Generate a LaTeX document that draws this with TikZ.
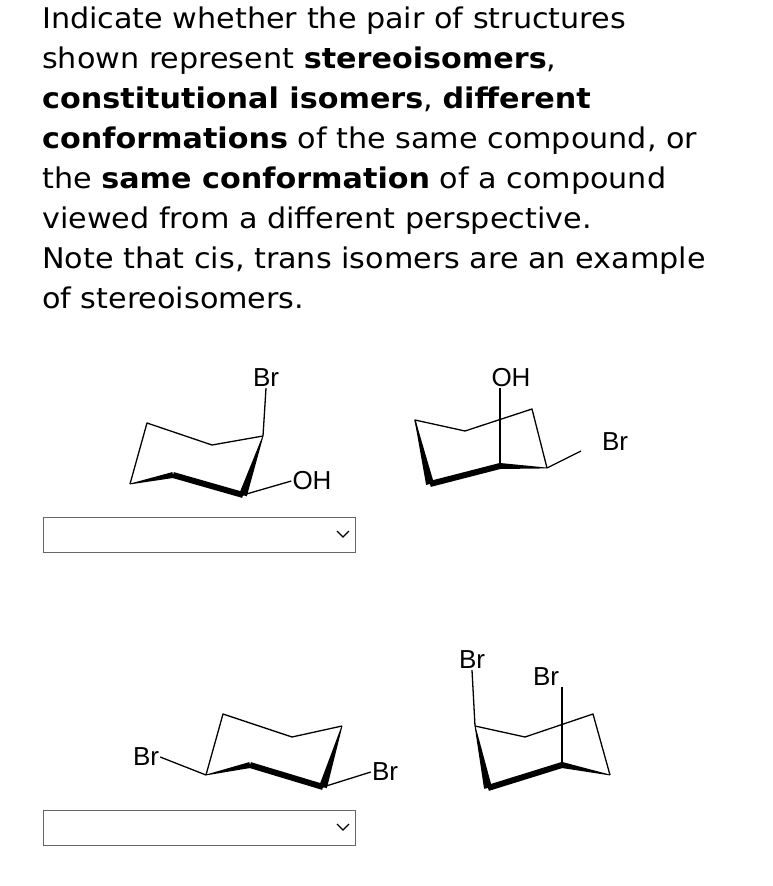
\documentclass[tikz,border=0pt]{standalone}
\usepackage{fontspec}
\setmainfont{DejaVu Sans}[FakeStretch=1.06]
\newfontfamily\lab{Liberation Sans}
\usetikzlibrary{calc}
\newcommand{\bwdg}[4]{\fill ($(#1)!#3!90:(#2)$) -- ($(#1)!#3!-90:(#2)$) -- ($(#2)!#4!90:(#1)$) -- ($(#2)!#4!-90:(#1)$) -- cycle;}
\tikzset{txt/.style={anchor=base west,inner sep=0,font=\fontsize{28.5}{32}\selectfont},
 lbl/.style={inner sep=1pt,font=\lab\fontsize{26}{28}\selectfont},
 bond/.style={line width=1.3pt},
 dd/.style={draw=black!60,line width=1pt}}
\begin{document}
\begin{tikzpicture}[x=1pt,y=-1pt]
\useasboundingbox (0,0) rectangle (772,886);
\node[txt] (l1) at (42,28) {Indicate whether the pair of structures};
\node[txt] (l2) at (42,68) {shown represent \textbf{stereoisomers},};
\node[txt] (l3) at (42,108) {\textbf{constitutional isomers}, \textbf{different}};
\node[txt] (l4) at (42,148) {\textbf{conformations} of the same compound, or};
\node[txt] (l5) at (42,188) {the \textbf{same conformation} of a compound};
\node[txt] (l6) at (42,228) {viewed from a different perspective.};
\node[txt] (l7) at (42,268) {Note that cis, trans isomers are an example};
\node[txt] (l8) at (42,308) {of stereoisomers.};
% chair 1
\coordinate (a1) at (130,484); \coordinate (a2) at (147,423); \coordinate (a3) at (212,445);
\coordinate (a4) at (263,436); \coordinate (a5) at (243,495); \coordinate (a6) at (173,475);
\draw[bond,line join=round] (a1) -- (a2) -- (a3) -- (a4);
\bwdg{a4}{a5}{0.4pt}{4pt}
\bwdg{a5}{a6}{3pt}{3pt}
\bwdg{a1}{a6}{0.4pt}{3pt}
\node[lbl] (br1) at (266,378) {Br};
\draw[bond] (a4) -- (br1.south);
\node[lbl] (oh1) at (312,481) {OH};
\draw[bond] (a5) -- (oh1.west);
% chair 2
\coordinate (b1) at (415,420); \coordinate (b2) at (465,431); \coordinate (b3) at (532,409);
\coordinate (b4) at (547,468); \coordinate (b5) at (500,466); \coordinate (b6) at (430,484);
\draw[bond,line join=round] (b6) -- (b1) -- (b2) -- (b3) -- (b4);
\bwdg{b1}{b6}{0.4pt}{4pt}
\bwdg{b6}{b5}{3pt}{3pt}
\bwdg{b4}{b5}{0.4pt}{3pt}
\node[lbl] (oh2) at (511,378) {OH};
\draw[bond] (b5) -- (oh2.south -| b5);
\node[lbl] (br2) at (615,442) {Br};
\coordinate (br2e) at (581,451);
\draw[bond] (b4) -- (br2e);
% chair 3
\coordinate (c1) at (223,714); \coordinate (c2) at (292,737); \coordinate (c3) at (342,726);
\coordinate (c4) at (323,787); \coordinate (c5) at (250,765); \coordinate (c6) at (206,775);
\draw[bond,line join=round] (c6) -- (c1) -- (c2) -- (c3);
\bwdg{c3}{c4}{0.4pt}{4pt}
\bwdg{c4}{c5}{3pt}{3pt}
\bwdg{c6}{c5}{0.4pt}{3pt}
\node[lbl] (br3) at (146,757) {Br};
\draw[bond] (c6) -- (br3.east);
\node[lbl] (br4) at (385,772) {Br};
\draw[bond] (c4) -- (br4.west);
% chair 4
\coordinate (d1) at (475,726); \coordinate (d2) at (525,737); \coordinate (d3) at (593,714);
\coordinate (d4) at (610,775); \coordinate (d5) at (562,765); \coordinate (d6) at (488,788);
\draw[bond,line join=round] (d1) -- (d2) -- (d3) -- (d4);
\bwdg{d1}{d6}{0.4pt}{4pt}
\bwdg{d6}{d5}{3pt}{3pt}
\bwdg{d4}{d5}{0.4pt}{3pt}
\node[lbl] (br5) at (472,660) {Br};
\draw[bond] (d1) -- (br5.south);
\node[lbl] (br6) at (546,677) {Br};
\draw[bond] (d5) -- (br6.south -| d5);
% dropdowns
\node[dd,minimum width=312pt,minimum height=35pt,anchor=north west,inner sep=0] (s1) at (43,517) {};
\draw[line width=1.3pt] ($(s1.east)+(-19,-4)$) -- ($(s1.east)+(-13,2)$) -- ($(s1.east)+(-7,-4)$);
\node[dd,minimum width=312pt,minimum height=35pt,anchor=north west,inner sep=0] (s2) at (43,810) {};
\draw[line width=1.3pt] ($(s2.east)+(-19,-4)$) -- ($(s2.east)+(-13,2)$) -- ($(s2.east)+(-7,-4)$);
\end{tikzpicture}
\end{document}
